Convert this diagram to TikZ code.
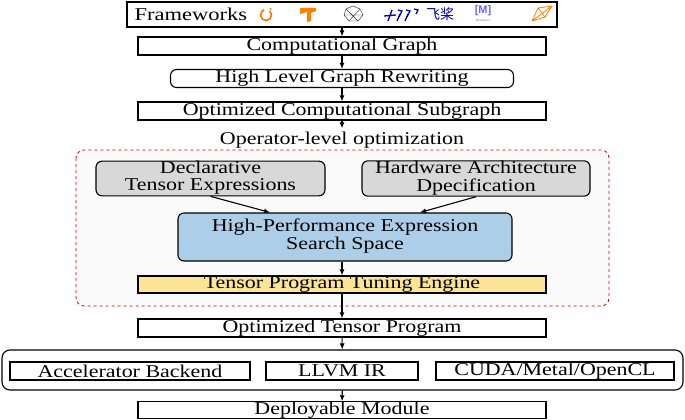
\documentclass[tikz,border=0pt]{standalone}
\usepackage{fontspec}
\setmainfont{Liberation Serif}
\newfontfamily\cjk{Noto Sans CJK SC}
\newfontfamily\sans{Liberation Sans}
\usetikzlibrary{arrows.meta}
\definecolor{hpblue}{RGB}{172,206,232}
\definecolor{tyellow}{RGB}{252,228,150}
\definecolor{dgray}{RGB}{216,216,216}
\newcommand{\W}[1]{\scalebox{1.22}[1]{#1}}
\newcommand{\WW}[2]{\scalebox{1.22}[1]{\begin{tabular}{@{}c@{}}#1\\[0pt]#2\end{tabular}}}
\begin{document}
\begin{tikzpicture}[x=1pt,y=-1pt,
  bx/.style={draw,line width=1.1pt,fill=white,minimum height=18pt,inner sep=0pt,font=\fontsize{18}{17}\selectfont},
  arr/.style={-{Latex[length=6pt,width=5pt]},line width=1.1pt}]
\useasboundingbox (0,0) rectangle (685,420);
% frameworks
\node[bx,minimum width=430,minimum height=25] (fw) at (342,14.5) {};
\node[anchor=west,font=\fontsize{18}{18}\selectfont] at (131,14) {\scalebox{1.25}[1]{Frameworks}};
\draw[orange!90!red,line width=1.6pt] ([shift={(-50:5.5)}]266,15) arc (-50:250:5.5);
\fill[orange!90!red] (270.5,9) circle (1);
\fill[orange] (300,8) -- (316,8) -- (316,11) -- (311,13) -- (311,21) -- (307,22) -- (307,12) -- (300,14) -- cycle;
\draw[gray!30!black,thin] (346,9) -- (353,6) -- (360,9) -- (363,15) -- (358,21) -- (349,21) -- (344,15) -- cycle
  (346,9) -- (358,21) (360,9) -- (349,21) (344,15) -- (363,15);
\draw[blue!70!black,line width=1.3pt] (384,16) -- (396,15) (392,10) -- (388,21)
  (398,10) -- (402,11) -- (399,17) (400,14) -- (397,21)
  (406,10) -- (410,11) -- (407,17) (408,14) -- (405,21)
  (414,9) -- (418,10) -- (416,14);
\node[text=blue!70!black,font=\cjk\fontsize{14}{14}\selectfont] at (440,14) {飞桨};
\node[text=blue!60,font=\sans\bfseries\fontsize{11}{12}\selectfont] at (483,11) {[M]};
\node[text=gray,font=\sans\fontsize{3}{3}\selectfont] at (483,21) {MindSpore};
\draw[orange,thick] (532,21) -- (538,8) -- (552,6) (532,21) -- (552,6) (538,8) -- (545,17) -- (552,6) (532,21) -- (545,17);
% chain
\node[bx,minimum width=408] (cg) at (342,46) {\W{Computational Graph}};
\node[bx,rounded corners=6pt,minimum width=343] (hl) at (342,78.5) {\W{High Level Graph Rewriting}};
\node[bx,minimum width=408] (ocs) at (342,111) {\W{Optimized Computational Subgraph}};
\node[font=\fontsize{18}{18}\selectfont] (ol) at (342,140) {\W{Operator-level optimization}};
\draw[red!85!black,dashed,line width=0.8pt,rounded corners=8pt,fill=gray!4] (76,150) rectangle (609,306);
\node[bx,rounded corners=6pt,fill=dgray,minimum width=229,minimum height=33] (dt) at (210.5,178.5) {\WW{Declarative}{Tensor Expressions}};
\node[bx,rounded corners=6pt,fill=dgray,minimum width=228,minimum height=33] (hw) at (476,178.5) {\WW{Hardware Architecture}{Dpecification}};
\node[bx,rounded corners=6pt,fill=hpblue,minimum width=334,minimum height=48] (hp) at (345,237) {\WW{High-Performance Expression}{Search Space}};
\node[bx,fill=tyellow,minimum width=408,minimum height=17] (te) at (342,284.5) {\W{Tensor Program Tuning Engine}};
\node[bx,minimum width=408] (otp) at (342,328) {\W{Optimized Tensor Program}};
\node[draw,line width=1.1pt,rounded corners=8pt,minimum width=681,minimum height=40,inner sep=0pt] (ob) at (342.5,370) {};
\node[bx,minimum width=240] (ab) at (130,371) {\W{Accelerator Backend}};
\node[bx,minimum width=152] (ll) at (342,371) {\W{LLVM IR}};
\node[bx,minimum width=238] (cu) at (555,371) {\W{CUDA/Metal/OpenCL}};
\node[bx,minimum width=408,minimum height=16] (dm) at (342,410) {\W{Deployable Module}};
\draw[arr] (fw) -- (cg);
\draw[arr] (cg) -- (hl);
\draw[arr] (hl) -- (ocs);
\draw[arr] (ocs) -- (ol);
\draw[arr] (dt.south) -- ([xshift=-75pt]hp.north);
\draw[arr] (hw.south) -- ([xshift=75pt]hp.north);
\draw[arr] (hp.south -| te) -- (te);
\draw[arr] (te) -- (otp);
\draw[arr] (otp) -- (ob);
\draw[arr] (ob) -- (dm);
\end{tikzpicture}
\end{document}
